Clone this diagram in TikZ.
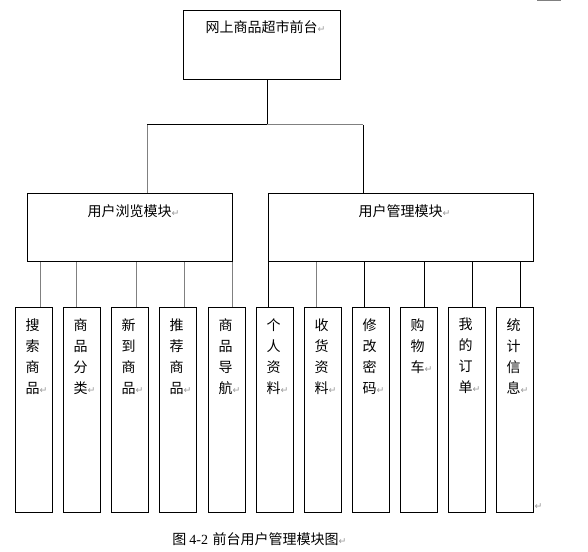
\documentclass[tikz,border=0pt]{standalone}
\usepackage{fontspec}
\usepackage{tikz}
\usetikzlibrary{positioning,calc}
\setmainfont{Liberation Serif}
\newfontfamily\cjk{Noto Sans CJK SC}
\newfontfamily\marksfont{DejaVu Sans}
\newcommand\retmark{{\marksfont\color{black!40}\fontsize{7}{7}\selectfont ↵}}
\newcommand\PxUnit{0.75pt}
\tikzset{
  box/.style={
    draw,
    line width=0.75pt,
    inner sep=0,
    anchor=north west
  },
}
\tikzset{
  leaf/.style={
    box,
    minimum width=27.75pt,
    minimum height=153.75pt
  },
}
\tikzset{
  txt/.style={
    font=\cjk\fontsize{10.5}{15.75}\selectfont,
    inner sep=0
  },
  link/.style={
    line width=0.75pt,
    draw=black
  },
  faint/.style={
    line width=0.75pt,
    draw=black!50
  }
}

\begin{document}
\begin{tikzpicture}[x=\PxUnit,y=-\PxUnit]
	\useasboundingbox (0,0) rectangle (588,552);

	% top level
	\node[box, minimum width=117.75pt, minimum height=51.75pt] (front) at (183,10) {};
	\node[txt] (frontT) at (261.5,27) {网上商品超市前台\rlap{\retmark}};

	% second level
	\node[box, minimum width=153.75pt, minimum height=51pt] (browse) at (27,193) {};
	\node[txt] (browseT) at (129.5,210.7) {用户浏览模块\rlap{\retmark}};
	\node[box, minimum width=198.75pt, minimum height=51pt] (manage) at (268,193) {};
	\node[txt] (manageT) at (400.5,210.7) {用户管理模块\rlap{\retmark}};

	\coordinate (hub) at (267,125);
	\coordinate (hubL) at (147,125);
	\coordinate (hubR) at (363,125);
	\draw[link] (front.south -| hub) -- (hub);
	\draw[link] (hub) -- (hubL);
	\draw[faint] (hub) -- (hubR);
	\draw[faint] (hubL) -- (browse.north -| hubL);
	\draw[link] (hubR) -- (manage.north -| hubR);

	% leaves
	\foreach \i/\x/\dx/\p/\s/\t in {
		1/15/25/browse/faint/{搜\\索\\商\\品},
		2/63/13/browse/faint/{商\\品\\分\\类},
		3/111/25/browse/faint/{新\\到\\商\\品},
		4/159/25/browse/faint/{推\\荐\\商\\品},
		5/208/24/browse/faint/{商\\品\\导\\航},
		6/256/12/manage/link/{个\\人\\资\\料},
		7/304/12/manage/faint/{收\\货\\资\\料},
		8/352/12/manage/link/{修\\改\\密\\码},
		9/400/24/manage/link/{购\\物\\车},
		10/448/24/manage/link/{我\\的\\订\\单},
		11/496/24/manage/link/{统\\计\\信\\息}}{
		\node[leaf] (leaf\i) at (\x,307) {};
		\node[txt, align=center, anchor=north] (leafT\i) at ([xshift=-1.1pt, yshift=-8.25pt]leaf\i.north) {\t\rlap{\retmark}};
		\coordinate (drop\i) at ([xshift={\dx*0.75pt}]leaf\i.north west);
		\draw[\s] (\p.south -| drop\i) -- (drop\i);
	}

	\node[inner sep=0] (endmark) at (538.5,507) {\retmark};
	\draw[faint] (537,1) -- (561,1);

	% caption
	\node[txt, anchor=west] (caption) at (172,539.5) {图\ {\rmfamily 4-2}\ \hspace{1pt}前台用户管理模块图\rlap{\retmark}};
\end{tikzpicture}
\end{document}
